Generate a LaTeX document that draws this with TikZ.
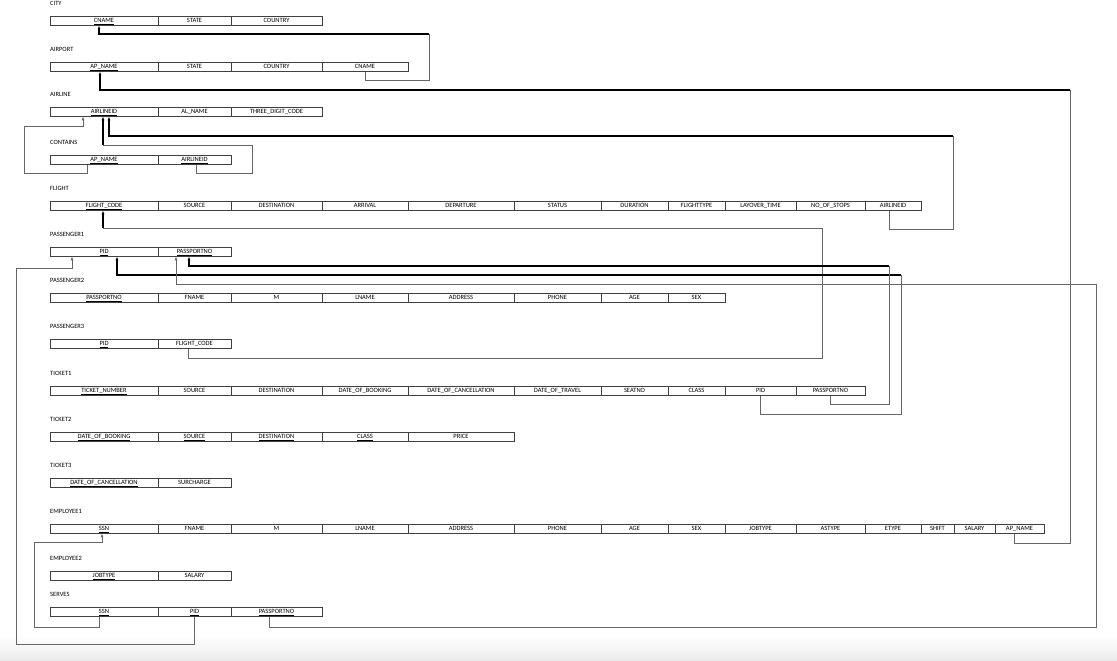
\documentclass[tikz,border=0pt]{standalone}
\usepackage{fontspec}
\setmainfont{Carlito}
\usetikzlibrary{arrows.meta}

% column borders shared by all relations
\def\colx{{50,158,231,322,408,514,601,668,725,796,865,921,954,995,1044}}

% name, y of row, caption, fields
\newcommand{\schemarow}[4]{%
  \node[relname] (#1) at (50,#2-18) {#3};
  \foreach \fld [count=\i] in {#4}{
    \pgfmathsetmacro{\xl}{\colx[\i-1]}
    \pgfmathsetmacro{\xr}{\colx[\i]}
    \node[attr,minimum width={(\xr-\xl)*1pt}] (#1-\i) at ({(\xl+\xr)/2},#2) {\fld};
  }
}

\tikzset{
  attr/.style={draw=black!75,line width=0.6pt,inner sep=0pt,outer sep=0pt,
    minimum height=9.5pt,text height=4.4pt,text depth=1.6pt,
    font=\fontsize{6.5}{7}\selectfont},
  relname/.style={anchor=west,inner sep=0pt,font=\fontsize{6.5}{7}\selectfont},
  fk/.style={draw=black!60,line width=0.6pt},
  fkb/.style={draw=black,line width=1.2pt}
}

\begin{document}
\begin{tikzpicture}[x=1pt,y=-1pt,>={Latex[length=3.5pt,width=3pt]}]
\useasboundingbox (0,0) rectangle (1117,661);
\fill[top color=white,bottom color=black!8] (0,636) rectangle (1117,661);

\schemarow{city}{21}{CITY}{\underline{CNAME},STATE,COUNTRY}
\schemarow{airport}{67}{AIRPORT}{\underline{AP\_NAME},STATE,COUNTRY,CNAME}
\schemarow{airline}{112}{AIRLINE}{\underline{AIRLINEID},AL\_NAME,THREE\_DIGIT\_CODE}
\schemarow{contains}{160}{CONTAINS}{\underline{AP\_NAME},\underline{AIRLINEID}}
\schemarow{flight}{206}{FLIGHT}{\underline{FLIGHT\_CODE},SOURCE,DESTINATION,ARRIVAL,DEPARTURE,STATUS,DURATION,FLIGHTTYPE,LAYOVER\_TIME,NO\_OF\_STOPS,AIRLINEID}
\schemarow{passenger1}{252}{PASSENGER1}{\underline{PID},\underline{PASSPORTNO}}
\schemarow{passenger2}{298}{PASSENGER2}{\underline{PASSPORTNO},FNAME,M,LNAME,ADDRESS,PHONE,AGE,SEX}
\schemarow{passenger3}{344}{PASSENGER3}{\underline{PID},FLIGHT\_CODE}
\schemarow{ticket1}{391}{TICKET1}{\underline{TICKET\_NUMBER},SOURCE,DESTINATION,DATE\_OF\_BOOKING,DATE\_OF\_CANCELLATION,DATE\_OF\_TRAVEL,SEATNO,CLASS,PID,PASSPORTNO}
\schemarow{ticket2}{437}{TICKET2}{\underline{DATE\_OF\_BOOKING},\underline{SOURCE},\underline{DESTINATION},\underline{CLASS},PRICE}
\schemarow{ticket3}{483}{TICKET3}{\underline{DATE\_OF\_CANCELLATION},SURCHARGE}
\schemarow{employee1}{529}{EMPLOYEE1}{\underline{SSN},FNAME,M,LNAME,ADDRESS,PHONE,AGE,SEX,JOBTYPE,ASTYPE,ETYPE,SHIFT,SALARY,AP\_NAME}
\schemarow{employee2}{576}{EMPLOYEE2}{\underline{JOBTYPE},SALARY}
\schemarow{serves}{612}{SERVES}{\underline{SSN},\underline{PID},\underline{PASSPORTNO}}

% city <- airport
\coordinate (c1) at (429,34);
\draw[fk] (airport-4.south) |- (429,80) -- (c1);
\draw[fkb,->] (c1) -| ([xshift=-5pt]city-1.south);

% airport <- employee1
\coordinate (c2) at (1070,90);
\draw[fk] ([xshift=-5pt]employee1-14.south) |- (1070,543) -- (c2);
\draw[fkb,->] (c2) -| ([xshift=-4pt]airport-1.south);

% airline <- flight
\coordinate (c3) at (953,136);
\draw[fk] ([xshift=-4pt]flight-11.south) |- (953,229) -- (c3);
\draw[fkb,->] (c3) -| ([xshift=5pt]airline-1.south);

% airline <- contains
\coordinate (c4) at (103,145);
\draw[fk] ([xshift=2pt]contains-2.south) |- (252,173) |- (c4);
\draw[fkb,->] (c4) -- (c4 |- airline-1.south);
\draw[fk,->] ([xshift=-17pt]contains-1.south) |- (24,173) |- (83,126) -- ([xshift=-21pt]airline-1.south);

% flight <- passenger3
\coordinate (c6) at (103,228);
\draw[fk] ([xshift=-6pt]passenger3-2.south) |- (822,358) |- (c6);
\draw[fkb,->] (c6) -- (c6 |- flight-1.south);

% passenger1 <- ticket1
\coordinate (c7) at (901,275);
\draw[fk] (ticket1-9.south) |- (901,414) -- (c7);
\draw[fkb,->] (c7) -| ([xshift=13pt]passenger1-1.south);
\coordinate (c8) at (889,266);
\draw[fk] (ticket1-10.south) |- (889,404) -- (c8);
\draw[fkb,->] (c8) -| ([xshift=-5.5pt]passenger1-2.south);

% passenger1 <- serves
\draw[fk,->] ([xshift=-7pt]serves-3.south) |- (1096,627) |- (176,284) -- ([xshift=-18.5pt]passenger1-2.south);
\draw[fk,->] (serves-2.south) |- (16,644) |- (72,268) -- ([xshift=-32pt]passenger1-1.south);

% employee1 <- serves
\draw[fk,->] ([xshift=-5pt]serves-1.south) |- (34,627) |- (102,542) -- ([xshift=-2pt]employee1-1.south);
\end{tikzpicture}
\end{document}
